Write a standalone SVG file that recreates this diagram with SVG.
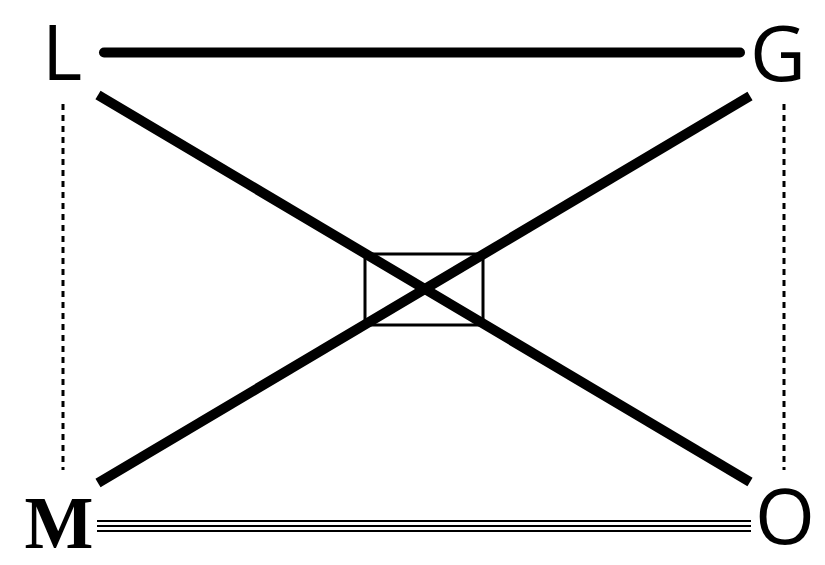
<svg xmlns="http://www.w3.org/2000/svg" width="825" height="565" viewBox="0 0 825 565">
<style>
.lbl{font-family:"Open Sans","Noto Sans",sans-serif;font-size:77px;fill:#000;text-anchor:middle}
.ser{font-family:"Liberation Serif","Times New Roman",serif;font-weight:bold;font-size:73px;fill:#000;text-anchor:middle}
.thick{stroke:#000;stroke-width:10;fill:none}
.dash{stroke:#000;stroke-width:3;stroke-dasharray:6 5;fill:none}
.thin{stroke:#000;stroke-width:2;fill:none}
</style>
<rect width="825" height="565" fill="#fff"/>
<g id="connectors">
<line class="thick" x1="104" y1="52.5" x2="740" y2="52.5" stroke-linecap="round"/>
<line class="thick" x1="98" y1="95" x2="750" y2="482"/>
<line class="thick" x1="98" y1="483" x2="750" y2="96"/>
<line class="dash" x1="63" y1="104" x2="63" y2="470"/>
<line class="dash" x1="784" y1="104" x2="784" y2="470"/>
<line class="thin" x1="97" y1="521" x2="751" y2="521"/>
<line class="thin" x1="97" y1="526" x2="751" y2="526"/>
<line class="thin" x1="97" y1="531" x2="751" y2="531"/>
</g>
<g id="center"><rect x="365" y="254" width="118" height="71" fill="none" stroke="#000" stroke-width="3"/></g>
<g id="L"><text class="lbl" x="62" y="80">L</text></g>
<g id="G"><text class="lbl" x="778" y="81">G</text></g>
<g id="M"><text class="ser" x="59" y="548">M</text></g>
<g id="O"><text class="lbl" x="785" y="544">O</text></g>
</svg>
